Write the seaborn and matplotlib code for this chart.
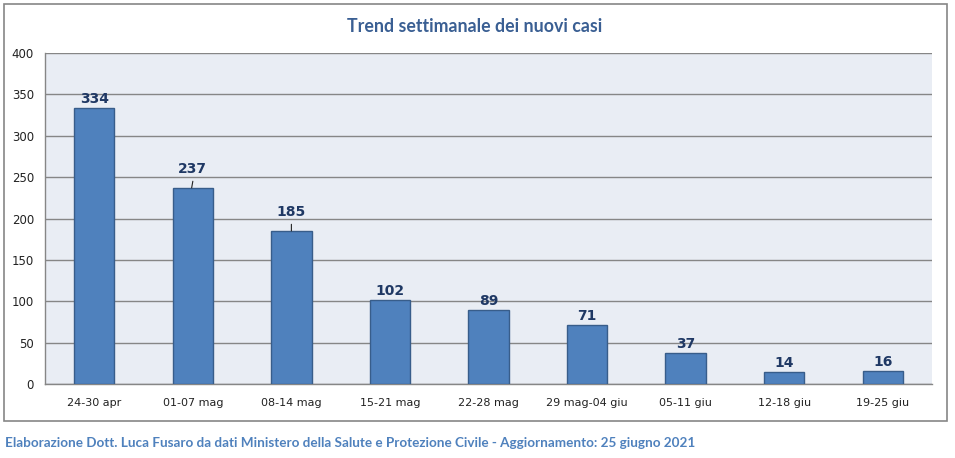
import numpy as np
import pandas as pd
import seaborn as sns
import matplotlib.pyplot as plt
from matplotlib.patches import Rectangle

weeks = ['24-30 apr', '01-07 mag', '08-14 mag', '15-21 mag', '22-28 mag',
         '29 mag-04 giu', '05-11 giu', '12-18 giu', '19-25 giu']
cases = [334, 237, 185, 102, 89, 71, 37, 14, 16]
yticks = [0, 50, 100, 150, 200, 250, 300, 350, 400]

title = 'Trend settimanale dei nuovi casi'
footer = ('Elaborazione Dott. Luca Fusaro da dati Ministero della Salute e Protezione Civile'
          ' - Aggiornamento: 25 giugno 2021')

df = pd.DataFrame({'week': weeks, 'cases': cases})

sns.set_style('white')
plt.rcParams['font.family'] = ['DejaVu Sans']

fig = plt.figure(figsize=(9.55, 4.58), dpi=100)
ax = fig.add_axes([45 / 955, 1 - 384 / 458, (932 - 45) / 955, (384 - 53) / 458])
ax.set_facecolor('#E9EDF4')

sns.barplot(data=df, x='week', y='cases', color='#4F81BD', width=0.41,
            edgecolor='#385D8A', linewidth=1, saturation=1, ax=ax, zorder=3)

ax.set_ylim(0, 400)
ax.set_xlim(-0.5, len(weeks) - 0.5)
ax.set_yticks(yticks)
ax.set_yticklabels([str(t) for t in yticks], fontsize=8.5, color='#222222')
ax.set_xticks(range(len(weeks)))
ax.set_xticklabels(weeks, fontsize=8, color='#222222')
ax.tick_params(axis='x', length=0, pad=10)
ax.tick_params(axis='y', length=4, color='#868686', width=1, pad=4)
ax.set_xticks(np.arange(0.5, len(weeks) - 0.5, 1), minor=True)
ax.tick_params(axis='x', which='minor', length=5, color='#868686', width=1)
ax.grid(axis='y', color='#868686', linewidth=1, zorder=0)
ax.set_axisbelow(True)
for s in ['top', 'right']:
    ax.spines[s].set_visible(False)
for s in ['left', 'bottom']:
    ax.spines[s].set_color('#868686')
    ax.spines[s].set_linewidth(1)
ax.set_xlabel('')
ax.set_ylabel('')

# data labels (two of them sit a little higher with a short leader line)
lifted = {1: 7, 2: 7}
for i, v in enumerate(cases):
    off = lifted.get(i, 0)
    ax.annotate(str(v), xy=(i, v), xytext=(0, 1.5 + off), textcoords='offset points',
                ha='center', va='bottom', fontsize=10, fontweight='bold', color='#1F3864')
    if off:
        ax.annotate('', xy=(i - 0.012 * (2 - i), v), xytext=(i, v + 8),
                    arrowprops=dict(arrowstyle='-', color='#222222', lw=0.8,
                                    shrinkA=0, shrinkB=0))

fig.text(0.497, 1 - 27 / 458, title, ha='center', va='center', fontsize=12.8,
         fontweight='bold', color='#3A5F93', family=['Lato', 'DejaVu Sans'])
fig.text(5 / 955, 1 - 443 / 458, footer, ha='left', va='center', fontsize=9.7,
         fontweight='bold', color='#4F81BD', family=['Lato', 'DejaVu Sans'])

fig.patches.append(Rectangle((4 / 955, 1 - 421 / 458), 943 / 955, 417 / 458,
                             transform=fig.transFigure, fill=False,
                             edgecolor='#868686', linewidth=1.2))

fig.savefig('out.png', dpi=100)
